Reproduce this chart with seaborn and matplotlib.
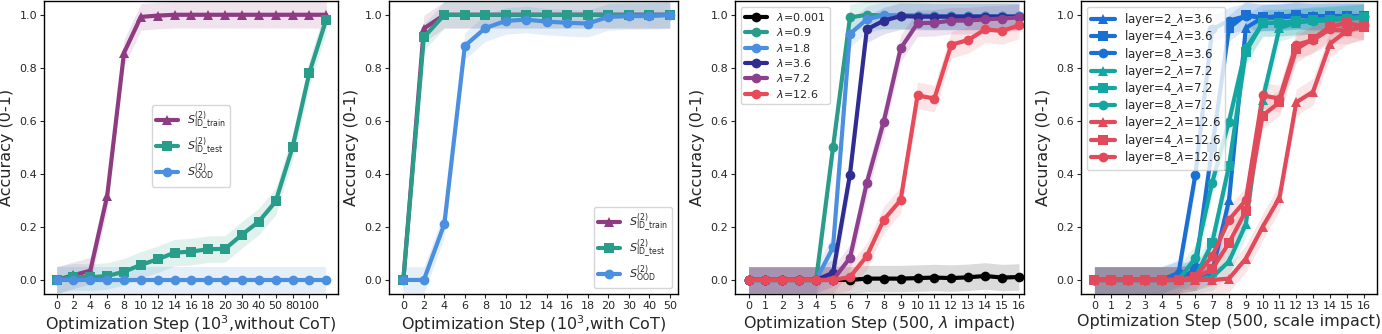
import matplotlib
matplotlib.use("Agg")
import matplotlib.pyplot as plt
import seaborn as sns
import numpy as np

# ---- data ----
# panel 1: without CoT
p1_labels = ["0", "2", "4", "6", "8", "10", "12", "14", "16", "18", "20",
             "30", "40", "50", "80", "100", ""]
p1_train = [0.0, 0.018, 0.035, 0.317, 0.857, 0.992, 0.997, 1.0, 1.0, 1.0, 1.0,
            1.0, 1.0, 1.0, 1.0, 1.0, 1.0]
p1_test = [0.0, 0.012, 0.01, 0.015, 0.031, 0.057, 0.078, 0.103, 0.107, 0.116,
           0.117, 0.171, 0.22, 0.296, 0.5, 0.781, 0.982]
p1_ood = [0.0] * 17

# panel 2: with CoT
p2_labels = ["0", "2", "4", "6", "8", "10", "12", "14", "16", "18", "20",
             "30", "40", "50"]
p2_train = [0.0, 0.948, 1.0, 1.0, 1.0, 1.0, 1.0, 1.0, 1.0, 1.0, 1.0, 1.0, 1.0, 1.0]
p2_test = [0.0, 0.915, 1.0, 1.0, 1.0, 1.0, 1.0, 1.0, 1.0, 1.0, 1.0, 1.0, 1.0, 1.0]
p2_ood = [0.0, 0.0, 0.211, 0.883, 0.95, 0.977, 0.982, 0.974, 0.97, 0.967,
          0.992, 0.995, 0.995, 0.999]

# panel 3: lambda impact
p3_steps = list(range(17))
p3_lam_0001 = [0, 0, 0, 0, 0, 0, 0, 0.005, 0.005, 0.005, 0.007, 0.009, 0.007,
               0.01, 0.015, 0.009, 0.011]
p3_lam_09 = [0, 0, 0, 0, 0, 0.5, 0.99, 1.0, 0.997, 0.997, 0.997, 0.995, 0.995,
             0.995, 0.995, 0.995, 0.995]
p3_lam_18 = [0, 0, 0, 0, 0, 0.123, 0.928, 0.983, 0.998, 0.997, 0.997, 0.995,
             0.995, 0.995, 0.995, 0.995, 0.995]
p3_lam_36 = [0, 0, 0, 0, 0, 0.027, 0.397, 0.945, 0.978, 0.995, 0.993, 0.993,
             0.993, 0.993, 0.993, 0.993, 0.993]
p3_lam_72 = [0, 0, 0, 0, 0, 0, 0.083, 0.367, 0.597, 0.873, 0.968, 0.97, 0.978,
             0.978, 0.983, 0.986, 0.99]
p3_lam_126 = [0, 0, 0, 0, 0, 0, 0.011, 0.09, 0.227, 0.301, 0.696, 0.684, 0.887,
              0.905, 0.945, 0.939, 0.96]

# panel 4: scale impact
p4_l2_36 = [0, 0, 0, 0, 0, 0.02, 0.01, 0.03, 0.30, 0.95, 0.99, 0.995, 0.995,
            0.995, 0.995, 0.995, 0.995]
p4_l4_36 = [0, 0, 0, 0, 0, 0, 0.04, 0.5, 0.95, 1.0, 0.99, 0.99, 1.0, 0.99,
            0.995, 0.995, 0.995]
p4_l8_36 = [0, 0, 0, 0, 0, 0.027, 0.397, 0.945, 0.978, 0.995, 0.99, 0.99,
            0.995, 0.995, 0.995, 0.995, 0.995]
p4_l2_72 = [0, 0, 0, 0, 0, 0, 0, 0.01, 0.07, 0.21, 0.68, 0.95, 0.97, 0.98,
            0.985, 0.99, 0.99]
p4_l4_72 = [0, 0, 0, 0, 0, 0, 0.01, 0.14, 0.43, 0.86, 0.97, 0.97, 0.975, 0.98,
            0.98, 0.985, 0.99]
p4_l8_72 = [0, 0, 0, 0, 0, 0, 0.083, 0.367, 0.597, 0.873, 0.968, 0.97, 0.975,
            0.975, 0.98, 0.985, 0.99]
p4_l2_126 = [0, 0, 0, 0, 0, 0, 0, 0, 0.005, 0.08, 0.2, 0.31, 0.67, 0.71, 0.89,
             0.94, 0.955]
p4_l4_126 = [0, 0, 0, 0, 0, 0, 0.01, 0.04, 0.14, 0.26, 0.62, 0.67, 0.87, 0.91,
             0.955, 0.97, 0.955]
p4_l8_126 = [0, 0, 0, 0, 0, 0, 0.011, 0.09, 0.227, 0.301, 0.696, 0.684, 0.887,
             0.905, 0.945, 0.939, 0.96]

band = 0.05  # half width of the shaded spread

# colours
c_train = "#8e3b82"
c_test = "#2a9d8a"
c_ood = "#4a8fe0"
c3 = ["#000000", "#2a9d8a", "#4a8fe0", "#2f2c92", "#8e3f8e", "#e84a5a"]
c_blue = "#1a6fd4"
c_teal = "#14a6a0"
c_red = "#e04a5a"

sns.set_style("ticks")
plt.rcParams["font.family"] = ["DejaVu Sans"]
plt.rcParams["mathtext.fontset"] = "dejavusans"

W, H = 1382, 334
fig = plt.figure(figsize=(W / 100, H / 100), dpi=100)


def make_ax(left, right, top=1, bottom=294):
    return fig.add_axes([left / W, (H - bottom) / H, (right - left) / W,
                         (bottom - top) / H])


def draw(ax, y, color, marker, label, ms=7):
    x = np.arange(len(y))
    y = np.asarray(y, dtype=float)
    ax.fill_between(x, y - band, y + band, color=color, alpha=0.14, lw=0)
    sns.lineplot(x=x, y=y, ax=ax, color=color, marker=marker, lw=3,
                 markersize=ms, markeredgewidth=0, label=label)


def finish(ax, labels, xlabel, xlim):
    ax.set_xticks(np.arange(len(labels)))
    ax.set_xticklabels(labels)
    ax.set_xlim(*xlim)
    ax.set_ylim(-0.053, 1.052)
    ax.set_yticks([0, 0.2, 0.4, 0.6, 0.8, 1.0])
    ax.set_yticklabels(["0.0", "0.2", "0.4", "0.6", "0.8", "1.0"])
    ax.tick_params(labelsize=8, length=3, pad=2)
    ax.set_xlabel(xlabel, fontsize=11.5, labelpad=2)
    ax.set_ylabel("Accuracy (0-1)", fontsize=11.5, labelpad=4)
    for s in ax.spines.values():
        s.set_linewidth(1)
        s.set_color("black")


lab_train = r"$S^{(2)}_{\mathrm{ID\_train}}$"
lab_test = r"$S^{(2)}_{\mathrm{ID\_test}}$"
lab_ood = r"$S^{(2)}_{\mathrm{OOD}}$"

# panel 1
ax1 = make_ax(44, 338)
draw(ax1, p1_train, c_train, "^", lab_train)
draw(ax1, p1_test, c_test, "s", lab_test)
draw(ax1, p1_ood, c_ood, "o", lab_ood)
finish(ax1, p1_labels, r"Optimization Step ($10^3$,without CoT)", (-0.75, 16.7))
ax1.legend(loc="center", bbox_to_anchor=(0.5, 0.505), fontsize=8,
           labelspacing=0.3, handlelength=2.0, borderpad=0.4)

# panel 2
ax2 = make_ax(389, 678)
draw(ax2, p2_train, c_train, "^", lab_train)
draw(ax2, p2_test, c_test, "s", lab_test)
draw(ax2, p2_ood, c_ood, "o", lab_ood)
finish(ax2, p2_labels, r"Optimization Step ($10^3$,with CoT)", (-0.7, 13.4))
ax2.legend(loc="lower right", fontsize=8, labelspacing=0.3, handlelength=2.0,
           borderpad=0.4)

# panel 3
ax3 = make_ax(735, 1024)
p3_series = [p3_lam_0001, p3_lam_09, p3_lam_18, p3_lam_36, p3_lam_72, p3_lam_126]
p3_names = ["0.001", "0.9", "1.8", "3.6", "7.2", "12.6"]
for y, c, n in zip(p3_series, c3, p3_names):
    draw(ax3, y, c, "o", r"$\lambda$=" + n)
finish(ax3, [str(s) for s in p3_steps],
       r"Optimization Step (500, $\lambda$ impact)", (-0.8, 16.3))
ax3.legend(loc="upper left", fontsize=8, labelspacing=0.3, handlelength=2.0)

# panel 4
ax4 = make_ax(1081, 1377)
p4_series = [p4_l2_36, p4_l4_36, p4_l8_36, p4_l2_72, p4_l4_72, p4_l8_72,
             p4_l2_126, p4_l4_126, p4_l8_126]
p4_colors = [c_blue] * 3 + [c_teal] * 3 + [c_red] * 3
p4_markers = ["^", "s", "o"] * 3
p4_names = ["layer=2_$\\lambda$=3.6", "layer=4_$\\lambda$=3.6",
            "layer=8_$\\lambda$=3.6", "layer=2_$\\lambda$=7.2",
            "layer=4_$\\lambda$=7.2", "layer=8_$\\lambda$=7.2",
            "layer=2_$\\lambda$=12.6", "layer=4_$\\lambda$=12.6",
            "layer=8_$\\lambda$=12.6"]
for y, c, m, n in zip(p4_series, p4_colors, p4_markers, p4_names):
    draw(ax4, y, c, m, n)
finish(ax4, [str(s) for s in p3_steps],
       "Optimization Step (500, scale impact)", (-0.8, 16.8))
ax4.legend(loc="upper left", fontsize=8.5, labelspacing=0.02, handlelength=2.0,
           borderpad=0.35)

fig.savefig("out.png", dpi=100)
